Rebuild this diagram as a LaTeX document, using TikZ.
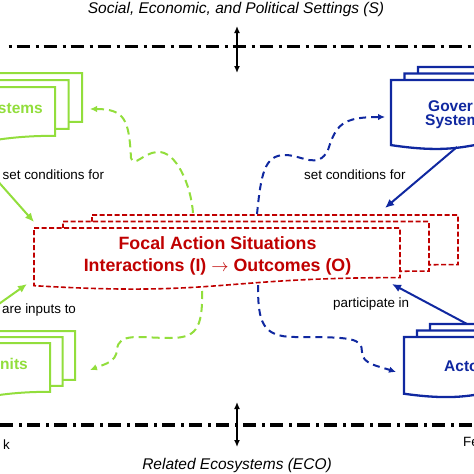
\documentclass[tikz,border=0pt]{standalone}
\usepackage{fontspec}
\setmainfont{Liberation Sans}
\usetikzlibrary{arrows.meta}
\definecolor{grn}{RGB}{146,222,60}
\definecolor{blu}{RGB}{16,40,160}
\definecolor{rd}{RGB}{192,0,0}
\newcommand{\docshp}[5]{\draw[#1] (#2,#3) -- ({#2+#4},#3) -- ({#2+#4},{#3+0.8*#5}) .. controls ({#2+0.5*#4},{#3+0.8*#5}) and ({#2+0.5*#4},{#3+1.107*#5}) .. (#2,{#3+0.93*#5}) -- cycle;}
\begin{document}
\begin{tikzpicture}[x=1pt,y=-1pt,
  lbl/.style={font=\fontsize{13.4}{16}\selectfont, inner sep=0pt, text=black},
  ttl/.style={font=\fontsize{15.5}{18}\selectfont\itshape, inner sep=0pt, text=black},
  boxlbl/.style={font=\fontsize{15.5}{18}\selectfont\bfseries, inner sep=0pt},
  redlbl/.style={font=\fontsize{17.8}{20}\selectfont\bfseries, inner sep=0pt, text=rd},
  gbox/.style={draw=grn, line width=2pt, fill=white},
  bbox/.style={draw=blu, line width=2.3pt, fill=white},
  rbox/.style={draw=rd, line width=1.6pt, fill=white, dash pattern=on 5pt off 2.5pt},
  gdash/.style={draw=grn, line width=2pt, dash pattern=on 8pt off 5pt, -{Latex[length=7pt,width=6.5pt]}},
  bdash/.style={draw=blu, line width=2pt, dash pattern=on 7pt off 5pt, -{Latex[length=7pt,width=6.5pt]}},
  gsolid/.style={draw=grn, line width=2pt, -{Latex[length=9pt,width=8pt]}},
  bsolid/.style={draw=blu, line width=2pt, -{Latex[length=9pt,width=8pt]}},
  septop/.style={line width=3.2pt, dash pattern=on 3pt off 5pt on 13pt off 6pt},
  sepbot/.style={line width=3.2pt, dash pattern=on 13pt off 6pt on 3pt off 5pt},
  dbl/.style={line width=1.3pt, {Latex[length=7pt,width=6pt]}-{Latex[length=7pt,width=6pt]}}]
\clip (0,0) rectangle (474,474);
\fill[white] (0,0) rectangle (474,474);

% separators
\coordinate (sepTL) at (8.5,46.5); \coordinate (sepTR) at (480,46.5);
\coordinate (sepBL) at (0,425); \coordinate (sepBR) at (480,425);
\draw[septop] (sepTL) -- (sepTR);
\draw[sepbot] (sepBL) -- (sepBR);
\coordinate (uaT) at (237,26); \coordinate (uaB) at (237,73);
\coordinate (laT) at (237,402); \coordinate (laB) at (237,447);
\draw[dbl] (uaT) -- (uaB);
\draw[dbl] (laT) -- (laB);

% green stacks
\docshp{gbox}{-83}{73}{165}{61}
\docshp{gbox}{-96.5}{80}{165}{61}
\docshp{gbox}{-110}{87}{165}{61}
\docshp{gbox}{-85}{331}{160}{61}
\docshp{gbox}{-97.5}{337}{160}{61}
\docshp{gbox}{-110}{343}{160}{61}
% blue stacks
\docshp{bbox}{418}{67}{166}{70}
\docshp{bbox}{404.5}{73.5}{166}{70}
\docshp{bbox}{391}{80}{166}{70}
\docshp{bbox}{430}{324}{155}{61}
\docshp{bbox}{417}{330.5}{155}{61}
\docshp{bbox}{404}{337}{155}{61}
% red stack
\docshp{rbox}{92}{215}{366}{62}
\docshp{rbox}{63}{221.5}{366}{62}
\docshp{rbox}{34}{228}{366}{62}

% connectors
\coordinate (fasTopG) at (193,213); \coordinate (rsIn) at (90,109);
\draw[gdash] (fasTopG) .. controls (191,185) and (176,150) .. (157,152) .. controls (143,153) and (134,168) .. (131,158) .. controls (129,120) and (125,109) .. (rsIn);
\coordinate (fasBotG) at (202,291); \coordinate (ruIn) at (90,370);
\draw[gdash] (fasBotG) .. controls (203,330) and (195,338) .. (170,338) .. controls (140,338) and (118,332) .. (117,350) .. controls (116,362) and (105,364) .. (ruIn);
\coordinate (fasTopB) at (257,214); \coordinate (gsIn) at (385,117);
\draw[bdash] (fasTopB) .. controls (261,175) and (264,155) .. (285,155) .. controls (302,155) and (318,170) .. (328,150) .. controls (336,125) and (342,117) .. (gsIn);
\coordinate (fasBotB) at (258,285); \coordinate (aIn) at (396,372);
\draw[bdash] (fasBotB) .. controls (258,322) and (262,337) .. (295,337) .. controls (352,337) and (362,338) .. (362,352) .. controls (362,364) and (378,366) .. (aIn);

\coordinate (rsOut) at (-5,178); \coordinate (fasInG) at (34,222);
\draw[gsolid] (rsOut) -- (fasInG);
\coordinate (ruOut) at (-4,306); \coordinate (fasInG2) at (27,284);
\draw[gsolid] (ruOut) -- (fasInG2);
\coordinate (gsOut) at (457,147); \coordinate (fasInB) at (385,208);
\draw[bsolid] (gsOut) -- (fasInB);
\coordinate (aOut) at (467,324); \coordinate (fasInB2) at (392,284);
\draw[bsolid] (aOut) -- (fasInB2);

% texts
\node[ttl, anchor=base] (tS) at (236,13.3) {Social, Economic, and Political Settings (S)};
\node[ttl, anchor=base] (tECO) at (237,469.5) {Related Ecosystems (ECO)};
\node[lbl, anchor=base west] (lk) at (3,449) {k};
\node[lbl, anchor=base west] (lfe) at (463,446) {Fe};
\node[lbl, anchor=base west] (lsc1) at (2.5,179) {set conditions for};
\node[lbl, anchor=base west] (lsc2) at (304,179) {set conditions for};
\node[lbl, anchor=base west] (lpi) at (333,307.5) {participate in};
\node[lbl, anchor=base west] (lai) at (2,313) {are inputs to};
\node[redlbl, anchor=base] (fas1) at (217.5,249) {Focal Action Situations};
\node[redlbl, anchor=base] (fas2) at (217.5,271) {Interactions (I) $\rightarrow$ Outcomes (O)};
\node[boxlbl, text=blu, anchor=base west] (gs1) at (428,111) {Gover};
\node[boxlbl, text=blu, anchor=base west] (gs2) at (425,125.5) {System};
\node[boxlbl, text=blu, anchor=base west] (act) at (444,371.5) {Acto};
\node[boxlbl, text=grn, anchor=base east] (rs) at (43,113) {stems};
\node[boxlbl, text=grn, anchor=base east] (ru) at (28,369) {nits};
\end{tikzpicture}
\end{document}
